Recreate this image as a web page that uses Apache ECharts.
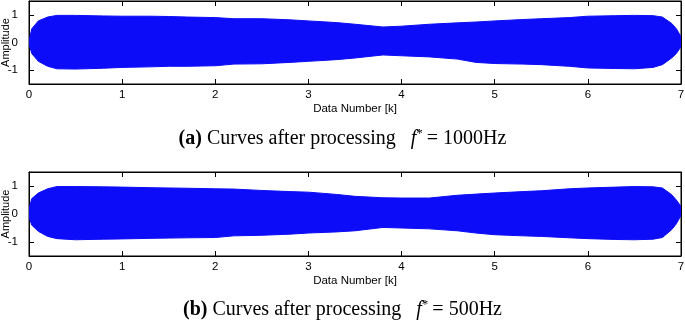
<!DOCTYPE html>
<html>
<head>
<meta charset="utf-8">
<script src="https://cdn.jsdelivr.net/npm/echarts@6/dist/echarts.min.js"></script>
<style>html,body{margin:0;padding:0;background:#fff}#c{width:685px;height:320px}</style>
</head>
<body>
<div id="c"></div>
<script>
// Data number [k] at which the envelope was read
const xs = [0, 0.03, 0.1, 0.2, 0.3, 0.5, 0.8, 1.0, 1.3, 1.5, 1.7, 2.0, 2.2, 2.5, 2.8, 3.0, 3.3, 3.5, 3.8, 4.0, 4.3, 4.6, 4.8, 5.0, 5.3, 5.5, 5.8, 6.0, 6.3, 6.5, 6.7, 6.8, 6.9, 6.95, 7.0];
// Panel (a): f* = 1000Hz, upper / lower signal envelope
const upperA = [0.05, 0.5, 0.78, 0.92, 0.98, 0.98, 0.96, 0.95, 0.95, 0.94, 0.92, 0.9, 0.86, 0.86, 0.82, 0.78, 0.72, 0.66, 0.56, 0.59, 0.66, 0.71, 0.74, 0.78, 0.83, 0.86, 0.9, 0.95, 0.97, 0.98, 0.97, 0.92, 0.69, 0.5, 0.21];
const lowerA = [-0.05, -0.4, -0.68, -0.86, -0.95, -0.96, -0.93, -0.9, -0.88, -0.86, -0.86, -0.84, -0.78, -0.77, -0.72, -0.68, -0.62, -0.56, -0.45, -0.48, -0.52, -0.6, -0.72, -0.76, -0.78, -0.8, -0.86, -0.92, -0.94, -0.95, -0.9, -0.8, -0.56, -0.4, -0.15];
// Panel (b): f* = 500Hz
const upperB = [0.2, 0.55, 0.75, 0.9, 0.98, 0.98, 0.97, 0.96, 0.94, 0.93, 0.92, 0.9, 0.89, 0.84, 0.8, 0.78, 0.7, 0.63, 0.58, 0.57, 0.57, 0.67, 0.71, 0.75, 0.8, 0.83, 0.9, 0.93, 0.96, 0.98, 0.97, 0.93, 0.69, 0.5, 0.27];
const lowerB = [-0.1, -0.4, -0.62, -0.8, -0.88, -0.92, -0.9, -0.89, -0.87, -0.86, -0.85, -0.84, -0.78, -0.76, -0.72, -0.68, -0.64, -0.6, -0.48, -0.5, -0.53, -0.6, -0.68, -0.74, -0.78, -0.8, -0.85, -0.88, -0.91, -0.92, -0.9, -0.84, -0.56, -0.35, -0.05];
const xTicks = [0, 1, 2, 3, 4, 5, 6, 7];
const yTicks = [-1, 0, 1];
const captions = [
  ['(a)', 'Curves after processing', 'f', '*', '=', '1000Hz'],
  ['(b)', 'Curves after processing', 'f', '*', '=', '500Hz']
];

const BLUE = '#0c0cf8';
const sans = 'Liberation Sans, Arial, sans-serif';
const serif = 'Liberation Serif, Times New Roman, serif';

const grids = [
  { left: 29, right: 4, top: 1, height: 83, outerBoundsMode: 'none', containLabel: false, show: true, borderColor: '#000', borderWidth: 1, backgroundColor: 'transparent' },
  { left: 29, right: 4, top: 172, height: 84, outerBoundsMode: 'none', containLabel: false, show: true, borderColor: '#000', borderWidth: 1, backgroundColor: 'transparent' }
];

const xAxes = [], yAxes = [];
[0, 1].forEach(g => {
  xAxes.push({
    gridIndex: g, type: 'value', min: 0, max: 7, position: 'bottom',
    axisLine: { show: true, onZero: false, lineStyle: { color: '#000', width: 1 } },
    axisTick: { show: true, inside: true, length: 5, customValues: xTicks, lineStyle: { color: '#000' } },
    axisLabel: { show: true, customValues: xTicks, color: '#000', fontFamily: sans, fontSize: 11.5, margin: 5 },
    splitLine: { show: false },
    name: 'Data Number [k]', nameLocation: 'middle', nameGap: 19, nameMoveOverlap: false,
    nameTextStyle: { color: '#000', fontFamily: sans, fontSize: 11.5 }
  });
  xAxes.push({
    gridIndex: g, type: 'value', min: 0, max: 7, position: 'top',
    axisLine: { show: true, onZero: false, lineStyle: { color: '#000', width: 1 } },
    axisTick: { show: true, inside: true, length: 5, customValues: xTicks, lineStyle: { color: '#000' } },
    axisLabel: { show: false }, splitLine: { show: false }
  });
  yAxes.push({
    gridIndex: g, type: 'value', min: -1.5, max: 1.5, position: 'left',
    axisLine: { show: true, onZero: false, lineStyle: { color: '#000', width: 1 } },
    axisTick: { show: true, inside: true, length: 5, customValues: yTicks, lineStyle: { color: '#000' } },
    axisLabel: { show: true, customValues: yTicks, color: '#000', fontFamily: sans, fontSize: 11.5, margin: 11 },
    splitLine: { show: false },
    name: 'Amplitude', nameLocation: 'middle', nameGap: 18, nameMoveOverlap: false,
    nameTextStyle: { color: '#000', fontFamily: sans, fontSize: 11 }
  });
  yAxes.push({
    gridIndex: g, type: 'value', min: -1.5, max: 1.5, position: 'right',
    axisLine: { show: true, onZero: false, lineStyle: { color: '#000', width: 1 } },
    axisTick: { show: true, inside: true, length: 5, customValues: yTicks, lineStyle: { color: '#000' } },
    axisLabel: { show: false }, splitLine: { show: false }
  });
});

// Band between lower and upper envelope, drawn as one polygon through the axis scales
function band(g, lower, upper) {
  return {
    type: 'custom', xAxisIndex: g * 2, yAxisIndex: g * 2,
    data: xs.map((x, i) => [x, lower[i], upper[i]]),
    encode: { x: 0, y: [1, 2] },
    silent: true, animation: false, clip: true,
    renderItem: function (params, api) {
      if (params.dataIndex !== 0) return null;
      const pts = [];
      for (let j = 0; j < xs.length; j++) pts.push(api.coord([xs[j], upper[j]]));
      for (let j = xs.length - 1; j >= 0; j--) pts.push(api.coord([xs[j], lower[j]]));
      return {
        type: 'polygon',
        shape: { points: pts },
        style: { fill: BLUE, stroke: BLUE, lineWidth: 1 }
      };
    }
  };
}

const FS = 20;
const rich = {
  b: { fontFamily: serif, fontWeight: 'bold', fontSize: FS, color: '#000' },
  n: { fontFamily: serif, fontWeight: 'normal', fontSize: FS, color: '#000' },
  i: { fontFamily: serif, fontWeight: 'normal', fontStyle: 'italic', fontSize: FS, color: '#000' },
  s: { fontFamily: serif, fontWeight: 'normal', fontSize: 13, color: '#000', padding: [0, 4, 11, 0] }
};
const capText = c => `{b|${c[0]}}{n| ${c[1]}   }{i|${c[2]}}{s|${c[3]}}{n|${c[4]} ${c[5]}}`;

const chart = echarts.init(document.getElementById('c'), null, { renderer: 'canvas' });
chart.setOption({
  animation: false,
  backgroundColor: '#fff',
  title: [
    { text: capText(captions[0]), left: 'center', top: 122, textStyle: { fontWeight: 'normal', rich } },
    { text: capText(captions[1]), left: 'center', top: 293, textStyle: { fontWeight: 'normal', rich } }
  ],
  grid: grids,
  xAxis: xAxes,
  yAxis: yAxes,
  series: [band(0, lowerA, upperA), band(1, lowerB, upperB)]
});
</script>
</body>
</html>
